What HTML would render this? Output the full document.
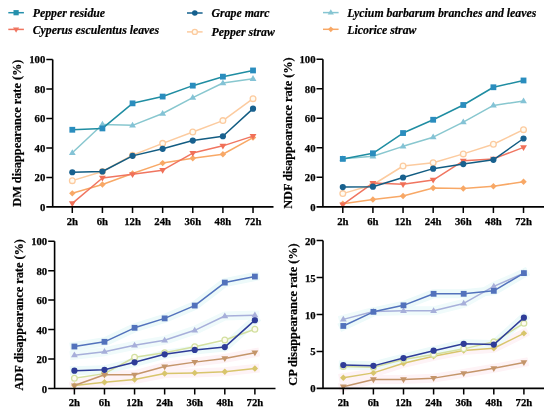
<!DOCTYPE html>
<html><head><meta charset="utf-8"><style>
html,body{margin:0;padding:0;background:#fff;}
svg{display:block;filter:blur(0.3px);}
.tk{font-family:"Liberation Serif",serif;font-weight:bold;font-size:10.7px;fill:#000;stroke:#000;stroke-width:0.25px;}
.al{font-family:"Liberation Serif",serif;font-weight:bold;font-size:12.3px;fill:#000;stroke:#000;stroke-width:0.2px;}
.lg{font-family:"Liberation Serif",serif;font-weight:bold;font-style:italic;font-size:11.8px;fill:#000;stroke:#000;stroke-width:0.2px;}
</style></head><body>
<svg width="550" height="417" viewBox="0 0 550 417">
<rect width="550" height="417" fill="#fff"/>
<polyline points="72.30,193.33 102.42,184.48 132.54,173.56 162.66,163.09 192.78,158.22 222.90,154.24 253.02,137.57" fill="none" stroke="#F8A866" stroke-width="1.5" stroke-linejoin="round"/>
<polygon points="72.30,190.13 75.50,193.33 72.30,196.53 69.10,193.33" fill="#F8A866"/>
<polygon points="102.42,181.28 105.62,184.48 102.42,187.68 99.22,184.48" fill="#F8A866"/>
<polygon points="132.54,170.37 135.74,173.56 132.54,176.76 129.34,173.56" fill="#F8A866"/>
<polygon points="162.66,159.89 165.86,163.09 162.66,166.29 159.46,163.09" fill="#F8A866"/>
<polygon points="192.78,155.03 195.98,158.22 192.78,161.42 189.58,158.22" fill="#F8A866"/>
<polygon points="222.90,151.04 226.10,154.24 222.90,157.44 219.70,154.24" fill="#F8A866"/>
<polygon points="253.02,134.38 256.22,137.57 253.02,140.77 249.82,137.57" fill="#F8A866"/>
<polyline points="72.30,180.65 102.42,171.50 132.54,155.28 162.66,143.33 192.78,131.97 222.90,120.61 253.02,98.63" fill="none" stroke="#FCCB9F" stroke-width="1.5" stroke-linejoin="round"/>
<circle cx="72.30" cy="180.65" r="2.85" fill="#FFFBF2" stroke="#FCCB9F" stroke-width="1.3"/>
<circle cx="102.42" cy="171.50" r="2.85" fill="#FFFBF2" stroke="#FCCB9F" stroke-width="1.3"/>
<circle cx="132.54" cy="155.28" r="2.85" fill="#FFFBF2" stroke="#FCCB9F" stroke-width="1.3"/>
<circle cx="162.66" cy="143.33" r="2.85" fill="#FFFBF2" stroke="#FCCB9F" stroke-width="1.3"/>
<circle cx="192.78" cy="131.97" r="2.85" fill="#FFFBF2" stroke="#FCCB9F" stroke-width="1.3"/>
<circle cx="222.90" cy="120.61" r="2.85" fill="#FFFBF2" stroke="#FCCB9F" stroke-width="1.3"/>
<circle cx="253.02" cy="98.63" r="2.85" fill="#FFFBF2" stroke="#FCCB9F" stroke-width="1.3"/>
<polyline points="72.30,203.36 102.42,177.99 132.54,174.30 162.66,170.17 192.78,153.06 222.90,145.84 253.02,136.10" fill="none" stroke="#F07560" stroke-width="1.5" stroke-linejoin="round"/>
<polygon points="72.30,206.96 75.72,201.20 68.88,201.20" fill="#F07058"/>
<polygon points="102.42,181.59 105.84,175.83 99.00,175.83" fill="#F07058"/>
<polygon points="132.54,177.90 135.96,172.14 129.12,172.14" fill="#F07058"/>
<polygon points="162.66,173.77 166.08,168.01 159.24,168.01" fill="#F07058"/>
<polygon points="192.78,156.66 196.20,150.90 189.36,150.90" fill="#F07058"/>
<polygon points="222.90,149.44 226.32,143.68 219.48,143.68" fill="#F07058"/>
<polygon points="253.02,139.70 256.44,133.94 249.60,133.94" fill="#F07058"/>
<polyline points="72.30,172.24 102.42,171.50 132.54,155.87 162.66,148.78 192.78,140.53 222.90,136.25 253.02,108.67" fill="none" stroke="#125C82" stroke-width="1.5" stroke-linejoin="round"/>
<circle cx="72.30" cy="172.24" r="3.10" fill="#18618F"/>
<circle cx="102.42" cy="171.50" r="3.10" fill="#18618F"/>
<circle cx="132.54" cy="155.87" r="3.10" fill="#18618F"/>
<circle cx="162.66" cy="148.78" r="3.10" fill="#18618F"/>
<circle cx="192.78" cy="140.53" r="3.10" fill="#18618F"/>
<circle cx="222.90" cy="136.25" r="3.10" fill="#18618F"/>
<circle cx="253.02" cy="108.67" r="3.10" fill="#18618F"/>
<polyline points="72.30,152.77 102.42,124.45 132.54,125.33 162.66,113.53 192.78,97.60 222.90,83.00 253.02,78.72" fill="none" stroke="#88C7CF" stroke-width="1.5" stroke-linejoin="round"/>
<polygon points="72.30,149.17 75.72,154.93 68.88,154.93" fill="#84C3D6"/>
<polygon points="102.42,120.85 105.84,126.61 99.00,126.61" fill="#84C3D6"/>
<polygon points="132.54,121.73 135.96,127.49 129.12,127.49" fill="#84C3D6"/>
<polygon points="162.66,109.93 166.08,115.69 159.24,115.69" fill="#84C3D6"/>
<polygon points="192.78,94.00 196.20,99.76 189.36,99.76" fill="#84C3D6"/>
<polygon points="222.90,79.40 226.32,85.16 219.48,85.16" fill="#84C3D6"/>
<polygon points="253.02,75.12 256.44,80.88 249.60,80.88" fill="#84C3D6"/>
<polyline points="72.30,129.76 102.42,128.43 132.54,103.35 162.66,96.57 192.78,85.66 222.90,76.66 253.02,70.46" fill="none" stroke="#1F8DA2" stroke-width="1.5" stroke-linejoin="round"/>
<rect x="69.40" y="126.86" width="5.80" height="5.80" fill="#2A8DBE"/>
<rect x="99.52" y="125.53" width="5.80" height="5.80" fill="#2A8DBE"/>
<rect x="129.64" y="100.45" width="5.80" height="5.80" fill="#2A8DBE"/>
<rect x="159.76" y="93.67" width="5.80" height="5.80" fill="#2A8DBE"/>
<rect x="189.88" y="82.75" width="5.80" height="5.80" fill="#2A8DBE"/>
<rect x="220.00" y="73.76" width="5.80" height="5.80" fill="#2A8DBE"/>
<rect x="250.12" y="67.56" width="5.80" height="5.80" fill="#2A8DBE"/>
<path d="M52.70,59.40V207.70M46.30,206.90H273.50" stroke="#000" stroke-width="1.6" fill="none"/>
<text x="45.30" y="210.90" text-anchor="end" class="tk">0</text>
<text x="45.30" y="181.40" text-anchor="end" class="tk">20</text>
<text x="45.30" y="151.90" text-anchor="end" class="tk">40</text>
<text x="45.30" y="122.40" text-anchor="end" class="tk">60</text>
<text x="45.30" y="92.90" text-anchor="end" class="tk">80</text>
<text x="45.30" y="63.40" text-anchor="end" class="tk">100</text>
<text x="72.30" y="224.70" text-anchor="middle" class="tk">2h</text>
<text x="102.42" y="224.70" text-anchor="middle" class="tk">6h</text>
<text x="132.54" y="224.70" text-anchor="middle" class="tk">12h</text>
<text x="162.66" y="224.70" text-anchor="middle" class="tk">24h</text>
<text x="192.78" y="224.70" text-anchor="middle" class="tk">36h</text>
<text x="222.90" y="224.70" text-anchor="middle" class="tk">48h</text>
<text x="253.02" y="224.70" text-anchor="middle" class="tk">72h</text>
<path d="M46.30,177.40H52.70M46.30,147.90H52.70M46.30,118.40H52.70M46.30,88.90H52.70M46.30,59.40H52.70M72.30,206.90V212.90M102.42,206.90V212.90M132.54,206.90V212.90M162.66,206.90V212.90M192.78,206.90V212.90M222.90,206.90V212.90M253.02,206.90V212.90" stroke="#000" stroke-width="1.5" fill="none"/>
<text transform="translate(20.90,133.15) rotate(-90)" text-anchor="middle" class="al">DM disappearance rate (%)</text>
<polyline points="342.80,203.65 372.92,199.52 403.04,195.97 433.16,187.99 463.28,188.44 493.40,186.22 523.52,181.79" fill="none" stroke="#F8A866" stroke-width="1.5" stroke-linejoin="round"/>
<polygon points="342.80,200.45 346.00,203.65 342.80,206.85 339.60,203.65" fill="#F8A866"/>
<polygon points="372.92,196.32 376.12,199.52 372.92,202.72 369.72,199.52" fill="#F8A866"/>
<polygon points="403.04,192.77 406.24,195.97 403.04,199.17 399.84,195.97" fill="#F8A866"/>
<polygon points="433.16,184.79 436.36,187.99 433.16,191.19 429.96,187.99" fill="#F8A866"/>
<polygon points="463.28,185.24 466.48,188.44 463.28,191.64 460.08,188.44" fill="#F8A866"/>
<polygon points="493.40,183.02 496.60,186.22 493.40,189.42 490.20,186.22" fill="#F8A866"/>
<polygon points="523.52,178.59 526.72,181.79 523.52,184.99 520.32,181.79" fill="#F8A866"/>
<polyline points="342.80,193.61 372.92,184.75 403.04,165.99 433.16,162.74 463.28,153.88 493.40,144.28 523.52,129.65" fill="none" stroke="#FCCB9F" stroke-width="1.5" stroke-linejoin="round"/>
<circle cx="342.80" cy="193.61" r="2.85" fill="#FFFBF2" stroke="#FCCB9F" stroke-width="1.3"/>
<circle cx="372.92" cy="184.75" r="2.85" fill="#FFFBF2" stroke="#FCCB9F" stroke-width="1.3"/>
<circle cx="403.04" cy="165.99" r="2.85" fill="#FFFBF2" stroke="#FCCB9F" stroke-width="1.3"/>
<circle cx="433.16" cy="162.74" r="2.85" fill="#FFFBF2" stroke="#FCCB9F" stroke-width="1.3"/>
<circle cx="463.28" cy="153.88" r="2.85" fill="#FFFBF2" stroke="#FCCB9F" stroke-width="1.3"/>
<circle cx="493.40" cy="144.28" r="2.85" fill="#FFFBF2" stroke="#FCCB9F" stroke-width="1.3"/>
<circle cx="523.52" cy="129.65" r="2.85" fill="#FFFBF2" stroke="#FCCB9F" stroke-width="1.3"/>
<polyline points="342.80,204.54 372.92,183.12 403.04,184.30 433.16,180.02 463.28,160.82 493.40,158.90 523.52,147.38" fill="none" stroke="#F07560" stroke-width="1.5" stroke-linejoin="round"/>
<polygon points="342.80,208.14 346.22,202.38 339.38,202.38" fill="#F07058"/>
<polygon points="372.92,186.72 376.34,180.96 369.50,180.96" fill="#F07058"/>
<polygon points="403.04,187.90 406.46,182.14 399.62,182.14" fill="#F07058"/>
<polygon points="433.16,183.62 436.58,177.86 429.74,177.86" fill="#F07058"/>
<polygon points="463.28,164.42 466.70,158.66 459.86,158.66" fill="#F07058"/>
<polygon points="493.40,162.50 496.82,156.74 489.98,156.74" fill="#F07058"/>
<polygon points="523.52,150.98 526.94,145.22 520.10,145.22" fill="#F07058"/>
<polyline points="342.80,187.11 372.92,186.67 403.04,177.51 433.16,168.65 463.28,164.07 493.40,159.78 523.52,138.51" fill="none" stroke="#125C82" stroke-width="1.5" stroke-linejoin="round"/>
<circle cx="342.80" cy="187.11" r="3.10" fill="#18618F"/>
<circle cx="372.92" cy="186.67" r="3.10" fill="#18618F"/>
<circle cx="403.04" cy="177.51" r="3.10" fill="#18618F"/>
<circle cx="433.16" cy="168.65" r="3.10" fill="#18618F"/>
<circle cx="463.28" cy="164.07" r="3.10" fill="#18618F"/>
<circle cx="493.40" cy="159.78" r="3.10" fill="#18618F"/>
<circle cx="523.52" cy="138.51" r="3.10" fill="#18618F"/>
<polyline points="342.80,158.75 372.92,156.24 403.04,146.34 433.16,137.19 463.28,122.12 493.40,105.43 523.52,101.00" fill="none" stroke="#88C7CF" stroke-width="1.5" stroke-linejoin="round"/>
<polygon points="342.80,155.15 346.22,160.91 339.38,160.91" fill="#84C3D6"/>
<polygon points="372.92,152.64 376.34,158.40 369.50,158.40" fill="#84C3D6"/>
<polygon points="403.04,142.74 406.46,148.50 399.62,148.50" fill="#84C3D6"/>
<polygon points="433.16,133.59 436.58,139.35 429.74,139.35" fill="#84C3D6"/>
<polygon points="463.28,118.52 466.70,124.28 459.86,124.28" fill="#84C3D6"/>
<polygon points="493.40,101.83 496.82,107.59 489.98,107.59" fill="#84C3D6"/>
<polygon points="523.52,97.40 526.94,103.16 520.10,103.16" fill="#84C3D6"/>
<polyline points="342.80,158.90 372.92,153.28 403.04,133.05 433.16,119.76 463.28,104.99 493.40,87.26 523.52,80.47" fill="none" stroke="#1F8DA2" stroke-width="1.5" stroke-linejoin="round"/>
<rect x="339.90" y="156.00" width="5.80" height="5.80" fill="#2A8DBE"/>
<rect x="370.02" y="150.38" width="5.80" height="5.80" fill="#2A8DBE"/>
<rect x="400.14" y="130.15" width="5.80" height="5.80" fill="#2A8DBE"/>
<rect x="430.26" y="116.86" width="5.80" height="5.80" fill="#2A8DBE"/>
<rect x="460.38" y="102.09" width="5.80" height="5.80" fill="#2A8DBE"/>
<rect x="490.50" y="84.36" width="5.80" height="5.80" fill="#2A8DBE"/>
<rect x="520.62" y="77.57" width="5.80" height="5.80" fill="#2A8DBE"/>
<path d="M322.90,59.20V207.70M316.50,206.90H544.00" stroke="#000" stroke-width="1.6" fill="none"/>
<text x="315.50" y="210.90" text-anchor="end" class="tk">0</text>
<text x="315.50" y="181.36" text-anchor="end" class="tk">20</text>
<text x="315.50" y="151.82" text-anchor="end" class="tk">40</text>
<text x="315.50" y="122.28" text-anchor="end" class="tk">60</text>
<text x="315.50" y="92.74" text-anchor="end" class="tk">80</text>
<text x="315.50" y="63.20" text-anchor="end" class="tk">100</text>
<text x="342.80" y="224.70" text-anchor="middle" class="tk">2h</text>
<text x="372.92" y="224.70" text-anchor="middle" class="tk">6h</text>
<text x="403.04" y="224.70" text-anchor="middle" class="tk">12h</text>
<text x="433.16" y="224.70" text-anchor="middle" class="tk">24h</text>
<text x="463.28" y="224.70" text-anchor="middle" class="tk">36h</text>
<text x="493.40" y="224.70" text-anchor="middle" class="tk">48h</text>
<text x="523.52" y="224.70" text-anchor="middle" class="tk">72h</text>
<path d="M316.50,177.36H322.90M316.50,147.82H322.90M316.50,118.28H322.90M316.50,88.74H322.90M316.50,59.20H322.90M342.80,206.90V212.90M372.92,206.90V212.90M403.04,206.90V212.90M433.16,206.90V212.90M463.28,206.90V212.90M493.40,206.90V212.90M523.52,206.90V212.90" stroke="#000" stroke-width="1.5" fill="none"/>
<text transform="translate(291.80,133.05) rotate(-90)" text-anchor="middle" class="al">NDF disappearance rate (%)</text>
<polyline points="74.40,385.55 104.48,382.31 134.56,379.51 164.64,373.48 194.72,372.89 224.80,371.71 254.88,368.47" fill="none" stroke="#FEF3F6" stroke-width="9" stroke-linejoin="round" stroke-linecap="square"/>
<polyline points="74.40,385.55 104.48,374.80 134.56,374.80 164.64,366.55 194.72,362.13 224.80,358.45 254.88,352.71" fill="none" stroke="#FEF3F6" stroke-width="9" stroke-linejoin="round" stroke-linecap="square"/>
<polyline points="74.40,370.68 104.48,369.79 134.56,362.28 164.64,354.33 194.72,349.91 224.80,347.11 254.88,320.15" fill="none" stroke="#EDFAFA" stroke-width="9" stroke-linejoin="round" stroke-linecap="square"/>
<polyline points="74.40,355.21 104.48,351.68 134.56,345.34 164.64,340.33 194.72,330.32 224.80,316.03 254.88,315.14" fill="none" stroke="#F0FBFB" stroke-width="9" stroke-linejoin="round" stroke-linecap="square"/>
<polyline points="74.40,346.52 104.48,341.81 134.56,327.81 164.64,318.39 194.72,305.57 224.80,282.59 254.88,276.55" fill="none" stroke="#EDFAFA" stroke-width="9" stroke-linejoin="round" stroke-linecap="square"/>
<polyline points="74.40,385.55 104.48,382.31 134.56,379.51 164.64,373.48 194.72,372.89 224.80,371.71 254.88,368.47" fill="none" stroke="#D8C56C" stroke-width="1.5" stroke-linejoin="round"/>
<polygon points="74.40,382.35 77.60,385.55 74.40,388.75 71.20,385.55" fill="#D8C56C"/>
<polygon points="104.48,379.11 107.68,382.31 104.48,385.51 101.28,382.31" fill="#D8C56C"/>
<polygon points="134.56,376.31 137.76,379.51 134.56,382.71 131.36,379.51" fill="#D8C56C"/>
<polygon points="164.64,370.28 167.84,373.48 164.64,376.68 161.44,373.48" fill="#D8C56C"/>
<polygon points="194.72,369.69 197.92,372.89 194.72,376.09 191.52,372.89" fill="#D8C56C"/>
<polygon points="224.80,368.51 228.00,371.71 224.80,374.91 221.60,371.71" fill="#D8C56C"/>
<polygon points="254.88,365.27 258.08,368.47 254.88,371.67 251.68,368.47" fill="#D8C56C"/>
<polyline points="74.40,378.19 104.48,373.62 134.56,357.27 164.64,352.71 194.72,346.67 224.80,340.04 254.88,329.29" fill="none" stroke="#D3E0A0" stroke-width="1.5" stroke-linejoin="round"/>
<circle cx="74.40" cy="378.19" r="2.85" fill="#FFFBF2" stroke="#D3E0A0" stroke-width="1.3"/>
<circle cx="104.48" cy="373.62" r="2.85" fill="#FFFBF2" stroke="#D3E0A0" stroke-width="1.3"/>
<circle cx="134.56" cy="357.27" r="2.85" fill="#FFFBF2" stroke="#D3E0A0" stroke-width="1.3"/>
<circle cx="164.64" cy="352.71" r="2.85" fill="#FFFBF2" stroke="#D3E0A0" stroke-width="1.3"/>
<circle cx="194.72" cy="346.67" r="2.85" fill="#FFFBF2" stroke="#D3E0A0" stroke-width="1.3"/>
<circle cx="224.80" cy="340.04" r="2.85" fill="#FFFBF2" stroke="#D3E0A0" stroke-width="1.3"/>
<circle cx="254.88" cy="329.29" r="2.85" fill="#FFFBF2" stroke="#D3E0A0" stroke-width="1.3"/>
<polyline points="74.40,385.55 104.48,374.80 134.56,374.80 164.64,366.55 194.72,362.13 224.80,358.45 254.88,352.71" fill="none" stroke="#C4956A" stroke-width="1.5" stroke-linejoin="round"/>
<polygon points="74.40,389.15 77.82,383.39 70.98,383.39" fill="#C4956A"/>
<polygon points="104.48,378.40 107.90,372.64 101.06,372.64" fill="#C4956A"/>
<polygon points="134.56,378.40 137.98,372.64 131.14,372.64" fill="#C4956A"/>
<polygon points="164.64,370.15 168.06,364.39 161.22,364.39" fill="#C4956A"/>
<polygon points="194.72,365.73 198.14,359.97 191.30,359.97" fill="#C4956A"/>
<polygon points="224.80,362.05 228.22,356.29 221.38,356.29" fill="#C4956A"/>
<polygon points="254.88,356.31 258.30,350.55 251.46,350.55" fill="#C4956A"/>
<polyline points="74.40,370.68 104.48,369.79 134.56,362.28 164.64,354.33 194.72,349.91 224.80,347.11 254.88,320.15" fill="none" stroke="#2E3C98" stroke-width="1.5" stroke-linejoin="round"/>
<circle cx="74.40" cy="370.68" r="3.10" fill="#2E3C98"/>
<circle cx="104.48" cy="369.79" r="3.10" fill="#2E3C98"/>
<circle cx="134.56" cy="362.28" r="3.10" fill="#2E3C98"/>
<circle cx="164.64" cy="354.33" r="3.10" fill="#2E3C98"/>
<circle cx="194.72" cy="349.91" r="3.10" fill="#2E3C98"/>
<circle cx="224.80" cy="347.11" r="3.10" fill="#2E3C98"/>
<circle cx="254.88" cy="320.15" r="3.10" fill="#2E3C98"/>
<polyline points="74.40,355.21 104.48,351.68 134.56,345.34 164.64,340.33 194.72,330.32 224.80,316.03 254.88,315.14" fill="none" stroke="#A7AFDA" stroke-width="1.5" stroke-linejoin="round"/>
<polygon points="74.40,351.61 77.82,357.37 70.98,357.37" fill="#A7AFDA"/>
<polygon points="104.48,348.07 107.90,353.84 101.06,353.84" fill="#A7AFDA"/>
<polygon points="134.56,341.74 137.98,347.50 131.14,347.50" fill="#A7AFDA"/>
<polygon points="164.64,336.73 168.06,342.49 161.22,342.49" fill="#A7AFDA"/>
<polygon points="194.72,326.72 198.14,332.48 191.30,332.48" fill="#A7AFDA"/>
<polygon points="224.80,312.43 228.22,318.19 221.38,318.19" fill="#A7AFDA"/>
<polygon points="254.88,311.54 258.30,317.30 251.46,317.30" fill="#A7AFDA"/>
<polyline points="74.40,346.52 104.48,341.81 134.56,327.81 164.64,318.39 194.72,305.57 224.80,282.59 254.88,276.55" fill="none" stroke="#5272BC" stroke-width="1.5" stroke-linejoin="round"/>
<rect x="71.50" y="343.62" width="5.80" height="5.80" fill="#5272BC"/>
<rect x="101.58" y="338.91" width="5.80" height="5.80" fill="#5272BC"/>
<rect x="131.66" y="324.91" width="5.80" height="5.80" fill="#5272BC"/>
<rect x="161.74" y="315.49" width="5.80" height="5.80" fill="#5272BC"/>
<rect x="191.82" y="302.67" width="5.80" height="5.80" fill="#5272BC"/>
<rect x="221.90" y="279.69" width="5.80" height="5.80" fill="#5272BC"/>
<rect x="251.98" y="273.65" width="5.80" height="5.80" fill="#5272BC"/>
<path d="M54.60,241.20V389.30M48.20,388.50H275.50" stroke="#000" stroke-width="1.6" fill="none"/>
<text x="47.20" y="392.50" text-anchor="end" class="tk">0</text>
<text x="47.20" y="363.04" text-anchor="end" class="tk">20</text>
<text x="47.20" y="333.58" text-anchor="end" class="tk">40</text>
<text x="47.20" y="304.12" text-anchor="end" class="tk">60</text>
<text x="47.20" y="274.66" text-anchor="end" class="tk">80</text>
<text x="47.20" y="245.20" text-anchor="end" class="tk">100</text>
<text x="74.40" y="406.30" text-anchor="middle" class="tk">2h</text>
<text x="104.48" y="406.30" text-anchor="middle" class="tk">6h</text>
<text x="134.56" y="406.30" text-anchor="middle" class="tk">12h</text>
<text x="164.64" y="406.30" text-anchor="middle" class="tk">24h</text>
<text x="194.72" y="406.30" text-anchor="middle" class="tk">36h</text>
<text x="224.80" y="406.30" text-anchor="middle" class="tk">48h</text>
<text x="254.88" y="406.30" text-anchor="middle" class="tk">72h</text>
<path d="M48.20,359.04H54.60M48.20,329.58H54.60M48.20,300.12H54.60M48.20,270.66H54.60M48.20,241.20H54.60M74.40,388.50V394.50M104.48,388.50V394.50M134.56,388.50V394.50M164.64,388.50V394.50M194.72,388.50V394.50M224.80,388.50V394.50M254.88,388.50V394.50" stroke="#000" stroke-width="1.5" fill="none"/>
<text transform="translate(23.40,314.85) rotate(-90)" text-anchor="middle" class="al">ADF disappearance rate (%)</text>
<polyline points="343.30,377.68 373.40,372.88 403.50,363.27 433.60,356.33 463.70,350.49 493.80,348.27 523.90,333.34" fill="none" stroke="#FEF3F6" stroke-width="9" stroke-linejoin="round" stroke-linecap="square"/>
<polyline points="343.30,386.77 373.40,379.53 403.50,379.53 433.60,378.13 463.70,373.32 493.80,368.30 523.90,362.46" fill="none" stroke="#FEF3F6" stroke-width="9" stroke-linejoin="round" stroke-linecap="square"/>
<polyline points="343.30,365.12 373.40,365.86 403.50,358.10 433.60,350.71 463.70,343.84 493.80,344.58 523.90,317.68" fill="none" stroke="#EDFAFA" stroke-width="9" stroke-linejoin="round" stroke-linecap="square"/>
<polyline points="343.30,319.38 373.40,311.54 403.50,310.81 433.60,310.81 463.70,303.41 493.80,286.42 523.90,273.12" fill="none" stroke="#F0FBFB" stroke-width="9" stroke-linejoin="round" stroke-linecap="square"/>
<polyline points="343.30,325.95 373.40,311.84 403.50,305.34 433.60,293.81 463.70,293.81 493.80,290.85 523.90,273.12" fill="none" stroke="#EDFAFA" stroke-width="9" stroke-linejoin="round" stroke-linecap="square"/>
<polyline points="343.30,377.68 373.40,372.88 403.50,363.27 433.60,356.33 463.70,350.49 493.80,348.27 523.90,333.34" fill="none" stroke="#D8C56C" stroke-width="1.5" stroke-linejoin="round"/>
<polygon points="343.30,374.48 346.50,377.68 343.30,380.88 340.10,377.68" fill="#D8C56C"/>
<polygon points="373.40,369.68 376.60,372.88 373.40,376.08 370.20,372.88" fill="#D8C56C"/>
<polygon points="403.50,360.07 406.70,363.27 403.50,366.47 400.30,363.27" fill="#D8C56C"/>
<polygon points="433.60,353.13 436.80,356.33 433.60,359.53 430.40,356.33" fill="#D8C56C"/>
<polygon points="463.70,347.29 466.90,350.49 463.70,353.69 460.50,350.49" fill="#D8C56C"/>
<polygon points="493.80,345.07 497.00,348.27 493.80,351.47 490.60,348.27" fill="#D8C56C"/>
<polygon points="523.90,330.14 527.10,333.34 523.90,336.54 520.70,333.34" fill="#D8C56C"/>
<polyline points="343.30,366.60 373.40,367.34 403.50,359.58 433.60,354.41 463.70,348.86 493.80,341.84 523.90,323.37" fill="none" stroke="#D3E0A0" stroke-width="1.5" stroke-linejoin="round"/>
<circle cx="343.30" cy="366.60" r="2.85" fill="#FFFBF2" stroke="#D3E0A0" stroke-width="1.3"/>
<circle cx="373.40" cy="367.34" r="2.85" fill="#FFFBF2" stroke="#D3E0A0" stroke-width="1.3"/>
<circle cx="403.50" cy="359.58" r="2.85" fill="#FFFBF2" stroke="#D3E0A0" stroke-width="1.3"/>
<circle cx="433.60" cy="354.41" r="2.85" fill="#FFFBF2" stroke="#D3E0A0" stroke-width="1.3"/>
<circle cx="463.70" cy="348.86" r="2.85" fill="#FFFBF2" stroke="#D3E0A0" stroke-width="1.3"/>
<circle cx="493.80" cy="341.84" r="2.85" fill="#FFFBF2" stroke="#D3E0A0" stroke-width="1.3"/>
<circle cx="523.90" cy="323.37" r="2.85" fill="#FFFBF2" stroke="#D3E0A0" stroke-width="1.3"/>
<polyline points="343.30,386.77 373.40,379.53 403.50,379.53 433.60,378.13 463.70,373.32 493.80,368.30 523.90,362.46" fill="none" stroke="#C4956A" stroke-width="1.5" stroke-linejoin="round"/>
<polygon points="343.30,390.37 346.72,384.61 339.88,384.61" fill="#C4956A"/>
<polygon points="373.40,383.13 376.82,377.37 369.98,377.37" fill="#C4956A"/>
<polygon points="403.50,383.13 406.92,377.37 400.08,377.37" fill="#C4956A"/>
<polygon points="433.60,381.73 437.02,375.97 430.18,375.97" fill="#C4956A"/>
<polygon points="463.70,376.92 467.12,371.16 460.28,371.16" fill="#C4956A"/>
<polygon points="493.80,371.90 497.22,366.14 490.38,366.14" fill="#C4956A"/>
<polygon points="523.90,366.06 527.32,360.30 520.48,360.30" fill="#C4956A"/>
<polyline points="343.30,365.12 373.40,365.86 403.50,358.10 433.60,350.71 463.70,343.84 493.80,344.58 523.90,317.68" fill="none" stroke="#2E3C98" stroke-width="1.5" stroke-linejoin="round"/>
<circle cx="343.30" cy="365.12" r="3.10" fill="#2E3C98"/>
<circle cx="373.40" cy="365.86" r="3.10" fill="#2E3C98"/>
<circle cx="403.50" cy="358.10" r="3.10" fill="#2E3C98"/>
<circle cx="433.60" cy="350.71" r="3.10" fill="#2E3C98"/>
<circle cx="463.70" cy="343.84" r="3.10" fill="#2E3C98"/>
<circle cx="493.80" cy="344.58" r="3.10" fill="#2E3C98"/>
<circle cx="523.90" cy="317.68" r="3.10" fill="#2E3C98"/>
<polyline points="343.30,319.38 373.40,311.54 403.50,310.81 433.60,310.81 463.70,303.41 493.80,286.42 523.90,273.12" fill="none" stroke="#A7AFDA" stroke-width="1.5" stroke-linejoin="round"/>
<polygon points="343.30,315.78 346.72,321.54 339.88,321.54" fill="#A7AFDA"/>
<polygon points="373.40,307.94 376.82,313.70 369.98,313.70" fill="#A7AFDA"/>
<polygon points="403.50,307.20 406.92,312.97 400.08,312.97" fill="#A7AFDA"/>
<polygon points="433.60,307.20 437.02,312.97 430.18,312.97" fill="#A7AFDA"/>
<polygon points="463.70,299.81 467.12,305.57 460.28,305.57" fill="#A7AFDA"/>
<polygon points="493.80,282.82 497.22,288.58 490.38,288.58" fill="#A7AFDA"/>
<polygon points="523.90,269.52 527.32,275.28 520.48,275.28" fill="#A7AFDA"/>
<polyline points="343.30,325.95 373.40,311.84 403.50,305.34 433.60,293.81 463.70,293.81 493.80,290.85 523.90,273.12" fill="none" stroke="#5272BC" stroke-width="1.5" stroke-linejoin="round"/>
<rect x="340.40" y="323.05" width="5.80" height="5.80" fill="#5272BC"/>
<rect x="370.50" y="308.94" width="5.80" height="5.80" fill="#5272BC"/>
<rect x="400.60" y="302.44" width="5.80" height="5.80" fill="#5272BC"/>
<rect x="430.70" y="290.91" width="5.80" height="5.80" fill="#5272BC"/>
<rect x="460.80" y="290.91" width="5.80" height="5.80" fill="#5272BC"/>
<rect x="490.90" y="287.95" width="5.80" height="5.80" fill="#5272BC"/>
<rect x="521.00" y="270.22" width="5.80" height="5.80" fill="#5272BC"/>
<path d="M323.00,240.60V389.20M316.60,388.40H544.00" stroke="#000" stroke-width="1.6" fill="none"/>
<text x="315.60" y="392.40" text-anchor="end" class="tk">0</text>
<text x="315.60" y="355.45" text-anchor="end" class="tk">5</text>
<text x="315.60" y="318.50" text-anchor="end" class="tk">10</text>
<text x="315.60" y="281.55" text-anchor="end" class="tk">15</text>
<text x="315.60" y="244.60" text-anchor="end" class="tk">20</text>
<text x="343.30" y="406.20" text-anchor="middle" class="tk">2h</text>
<text x="373.40" y="406.20" text-anchor="middle" class="tk">6h</text>
<text x="403.50" y="406.20" text-anchor="middle" class="tk">12h</text>
<text x="433.60" y="406.20" text-anchor="middle" class="tk">24h</text>
<text x="463.70" y="406.20" text-anchor="middle" class="tk">36h</text>
<text x="493.80" y="406.20" text-anchor="middle" class="tk">48h</text>
<text x="523.90" y="406.20" text-anchor="middle" class="tk">72h</text>
<path d="M316.60,351.45H323.00M316.60,314.50H323.00M316.60,277.55H323.00M316.60,240.60H323.00M343.30,388.40V394.40M373.40,388.40V394.40M403.50,388.40V394.40M433.60,388.40V394.40M463.70,388.40V394.40M493.80,388.40V394.40M523.90,388.40V394.40" stroke="#000" stroke-width="1.5" fill="none"/>
<text transform="translate(297.20,314.50) rotate(-90)" text-anchor="middle" class="al">CP disappearance rate (%)</text>
<path d="M8.30,12.70h15.6" stroke="#2590AC" stroke-width="1.5"/>
<rect x="13.49" y="10.09" width="5.22" height="5.22" fill="#2590AC"/>
<text x="32.70" y="16.90" class="lg">Pepper residue</text>
<path d="M8.30,29.40h15.6" stroke="#F07560" stroke-width="1.5"/>
<polygon points="16.10,32.64 19.18,27.46 13.02,27.46" fill="#F07560"/>
<text x="32.70" y="33.60" class="lg">Cyperus esculentus leaves</text>
<path d="M187.00,13.00h15.6" stroke="#15608E" stroke-width="1.5"/>
<circle cx="194.80" cy="13.00" r="2.79" fill="#15608E"/>
<text x="211.60" y="17.20" class="lg">Grape marc</text>
<path d="M187.00,31.90h15.6" stroke="#FCCB9F" stroke-width="1.5"/>
<circle cx="194.80" cy="31.90" r="2.56" fill="#FFFBF2" stroke="#FCCB9F" stroke-width="1.3"/>
<text x="211.60" y="36.10" class="lg">Pepper straw</text>
<path d="M323.00,12.60h15.6" stroke="#86C5D2" stroke-width="1.5"/>
<polygon points="330.80,9.36 333.88,14.54 327.72,14.54" fill="#86C5D2"/>
<text x="347.30" y="16.80" class="lg">Lycium barbarum branches and leaves</text>
<path d="M323.00,29.30h15.6" stroke="#F8A866" stroke-width="1.5"/>
<polygon points="330.80,26.42 333.68,29.30 330.80,32.18 327.92,29.30" fill="#F8A866"/>
<text x="347.30" y="33.50" class="lg">Licorice straw</text>
</svg>
</body></html>
